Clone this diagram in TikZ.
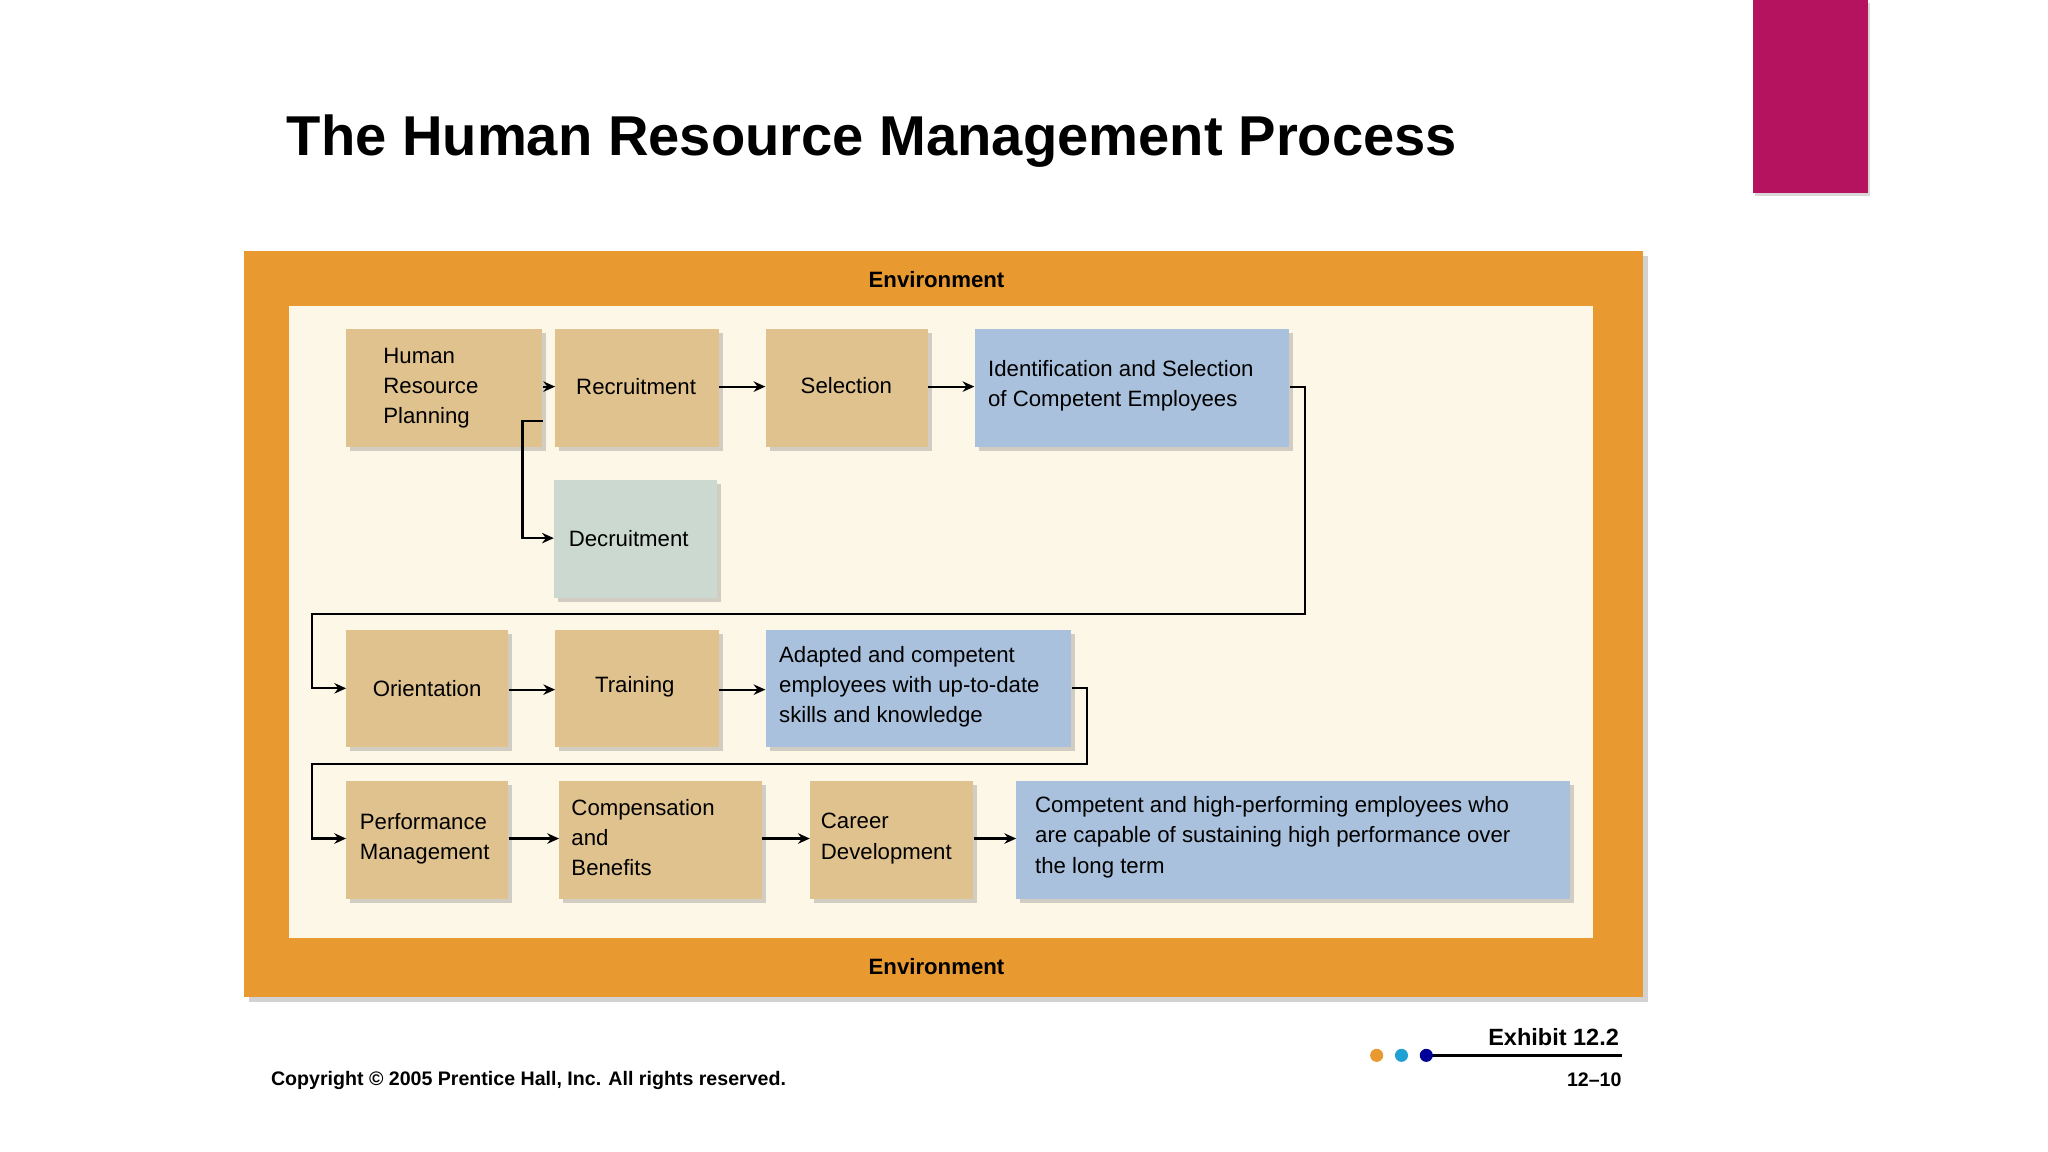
\documentclass[tikz,border=0pt]{standalone}
\usepackage{fontspec}
\setmainfont{Liberation Sans}
\usetikzlibrary{shadows,arrows.meta}
\definecolor{mag}{HTML}{B5135F}
\definecolor{org}{HTML}{E8992F}
\definecolor{cream}{HTML}{FDF7E8}
\definecolor{tan}{HTML}{E0C28F}
\definecolor{blu}{HTML}{A9C1DC}
\definecolor{grn}{HTML}{CBD9D0}
\tikzset{
 bx/.style={anchor=north west,inner sep=0pt,align=left,font=\fontsize{17}{23}\selectfont,
  drop shadow={shadow xshift=3pt,shadow yshift=-3pt,opacity=0.35}},
 conn/.style={line width=1.6pt,-{Stealth[length=9pt,width=8pt]}},
 ln/.style={line width=1.6pt}
}
\newcommand{\mybox}[7]{\node[bx,fill=#6,minimum width=#3pt-#1pt,minimum height=#4pt-#2pt,text width=#3pt-#1pt-16pt] (#5) at (#1,#2) {\hspace*{#7pt}\parbox{#3pt-#1pt-16pt}{#5x}};}
\begin{document}
\begin{tikzpicture}[x=1pt,y=-1pt]
\useasboundingbox (0,0) rectangle (1568,882);
\fill[white] (0,0) rectangle (1568,882);
\fill[mag,drop shadow={shadow xshift=2pt,shadow yshift=-2pt,opacity=0.3}] (1342,0) rectangle (1430,148);
\node[anchor=west,font=\bfseries\fontsize{43}{50}\selectfont] (title) at (216,108) {The Human Resource Management Process};
\fill[org,drop shadow={shadow xshift=4pt,shadow yshift=-4pt,opacity=0.35}] (187,192) rectangle (1258,763);
\fill[cream] (221,234) rectangle (1220,718);
\node[font=\bfseries\fontsize{17}{20}\selectfont] (env1) at (717,214) {Environment};
\node[font=\bfseries\fontsize{17}{20}\selectfont] (env2) at (717,740) {Environment};
% boxes
\tikzset{b/.style={bx,fill=tan,text width=#1,inner xsep=9pt,minimum height=90pt}}
\node[b=106pt,fill=tan,inner xsep=26pt,text width=98pt] (hrp) at (265,252) {};
\node[anchor=west,align=left,font=\fontsize{17}{23}\selectfont] at (290,297) {Human\\Resource\\Planning};
\node[b=106pt,minimum width=125pt,inner xsep=0pt,text width=125pt,align=center] (rec) at (425,252) {\vphantom{Hg}\\[-2pt]};
\node[font=\fontsize{17}{23}\selectfont] at (487,296) {Recruitment};
\node[bx,fill=tan,minimum width=124pt,minimum height=90pt] (sel) at (586,252) {};
\node[font=\fontsize{17}{23}\selectfont] at (648,295) {Selection};
\node[bx,fill=blu,minimum width=241pt,minimum height=90pt] (ide) at (746,252) {};
\node[anchor=west,align=left,font=\fontsize{17}{23}\selectfont] at (753,295) {Identification and Selection\\of Competent Employees};
\node[bx,fill=grn,minimum width=125pt,minimum height=91pt] (dec) at (424,367) {};
\node[anchor=west,font=\fontsize{17}{23}\selectfont] at (432,412) {Decruitment};
\node[bx,fill=tan,minimum width=124pt,minimum height=90pt] (ori) at (265,482) {};
\node[font=\fontsize{17}{23}\selectfont] at (327,527) {Orientation};
\node[bx,fill=tan,minimum width=125pt,minimum height=90pt] (tra) at (425,482) {};
\node[font=\fontsize{17}{23}\selectfont] at (486,526) {Training};
\node[bx,fill=blu,minimum width=234pt,minimum height=90pt] (ada) at (586,482) {};
\node[anchor=west,align=left,font=\fontsize{17}{23}\selectfont] at (593,526) {Adapted and competent\\employees with up-to-date\\skills and knowledge};
\node[bx,fill=tan,minimum width=124pt,minimum height=90pt] (per) at (265,598) {};
\node[anchor=west,align=left,font=\fontsize{17}{23}\selectfont] at (272,642) {Performance\\Management};
\node[bx,fill=tan,minimum width=155pt,minimum height=90pt] (com) at (428,598) {};
\node[anchor=west,align=left,font=\fontsize{17}{23}\selectfont] at (434,641) {Compensation\\and\\Benefits};
\node[bx,fill=tan,minimum width=125pt,minimum height=90pt] (car) at (620,598) {};
\node[anchor=west,align=left,font=\fontsize{17}{23}\selectfont] at (625,642) {Career\\Development};
\node[bx,fill=blu,minimum width=424pt,minimum height=90pt] (cmp) at (778,598) {};
\node[anchor=west,align=left,font=\fontsize{17}{23}\selectfont] at (789,641) {Competent and high-performing employees who\\are capable of sustaining high performance over\\the long term};
% connectors
\draw[conn] (hrp.east |- 0,296) -- (rec.west |- 0,296);
\draw[conn] (rec.east |- 0,296) -- (sel.west |- 0,296);
\draw[conn] (sel.east |- 0,296) -- (ide.west |- 0,296);
\draw[conn] (hrp.east |- 0,322) -- (400,322) -- (400,412) -- (dec.west |- 0,412);
\draw[conn] (ide.east |- 0,296) -- (999,296) -- (999,470) -- (239,470) -- (239,527) -- (ori.west |- 0,527);
\draw[conn] (ori.east |- 0,528) -- (tra.west |- 0,528);
\draw[conn] (tra.east |- 0,528) -- (ada.west |- 0,528);
\draw[conn] (ada.east |- 0,527) -- (832,527) -- (832,585) -- (239,585) -- (239,642) -- (per.west |- 0,642);
\draw[conn] (per.east |- 0,642) -- (com.west |- 0,642);
\draw[conn] (com.east |- 0,642) -- (car.west |- 0,642);
\draw[conn] (car.east |- 0,642) -- (cmp.west |- 0,642);
% footer
\node[anchor=east,font=\bfseries\fontsize{18}{20}\selectfont] (ex) at (1243,794) {Exhibit 12.2};
\draw[line width=2.2pt] (1094,808) -- (1242,808);
\fill[org] (1054,808) circle (5pt);
\fill[cyan!70!teal] (1073,808) circle (5pt);
\fill[blue!60!black] (1092,808) circle (5pt);
\node[anchor=east,font=\bfseries\fontsize{15}{18}\selectfont] (pg) at (1245,827) {12–10};
\node[anchor=west,font=\bfseries\fontsize{15}{18}\selectfont] (cp) at (204,827) {Copyright © 2005 Prentice Hall, Inc. All rights reserved.};
\end{tikzpicture}
\end{document}
